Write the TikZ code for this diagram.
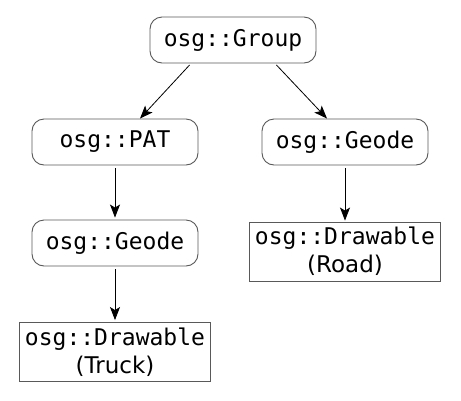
\documentclass[tikz,border=0pt]{standalone}
\usepackage{fontspec}
\newfontfamily\osgmono{DejaVu Sans Mono}
\newfontfamily\osgsans{DejaVu Sans}
\usepackage{tikz}
\usetikzlibrary{shapes}
\usetikzlibrary{positioning}
\usetikzlibrary{arrows.meta}
\tikzset{
    osgnode/.style = {rectangle, rounded corners=12pt, draw=black!65, line width=0.9pt, align=center, fill=white, minimum width=166pt, minimum height=46pt, inner sep=0pt, font=\osgmono\fontsize{23}{28}\selectfont, text=black},
    osgleaf/.style = {rectangle, draw=black!65, line width=0.9pt, align=center, fill=white, minimum width=191pt, minimum height=59pt, inner sep=0pt, font=\osgsans\fontsize{23}{28}\selectfont, text=black},
    edgen/.style = {-{Stealth[length=13pt,width=10pt,inset=3pt]}, line width=0.8pt, black},
}
\begin{document}
\begin{tikzpicture}[x=1pt, y=-1pt]
  \useasboundingbox (0,0) rectangle (461,400);
  \node[osgnode] (grp) at (233,40) {osg::Group};
  \node[osgnode] (pat) at (115,142) {osg::PAT};
  \node[osgnode] (geor) at (345,142) {osg::Geode};
  \node[osgnode] (geol) at (115,243) {osg::Geode};
  \node[osgleaf] (truck) at (115,352) {{\osgmono osg::Drawable}\\(Truck)};
  \node[osgleaf] (road) at (345,251.5) {{\osgmono osg::Drawable}\\(Road)};
  % group to children
  \draw[edgen, shorten <=2pt] ([xshift=-42pt]grp.south) -- ([xshift=25pt]pat.north);
  \draw[edgen, shorten <=2pt] ([xshift=42pt]grp.south) -- ([xshift=-18pt]geor.north);
  % down the branches
  \draw[edgen, shorten <=3pt, shorten >=2pt] (pat.south) -- (geol.north);
  \draw[edgen, shorten <=3pt, shorten >=2pt] (geol.south) -- (truck.north);
  \draw[edgen, shorten <=3pt, shorten >=1pt] (geor.south) -- (road.north);
\end{tikzpicture}
\end{document}
